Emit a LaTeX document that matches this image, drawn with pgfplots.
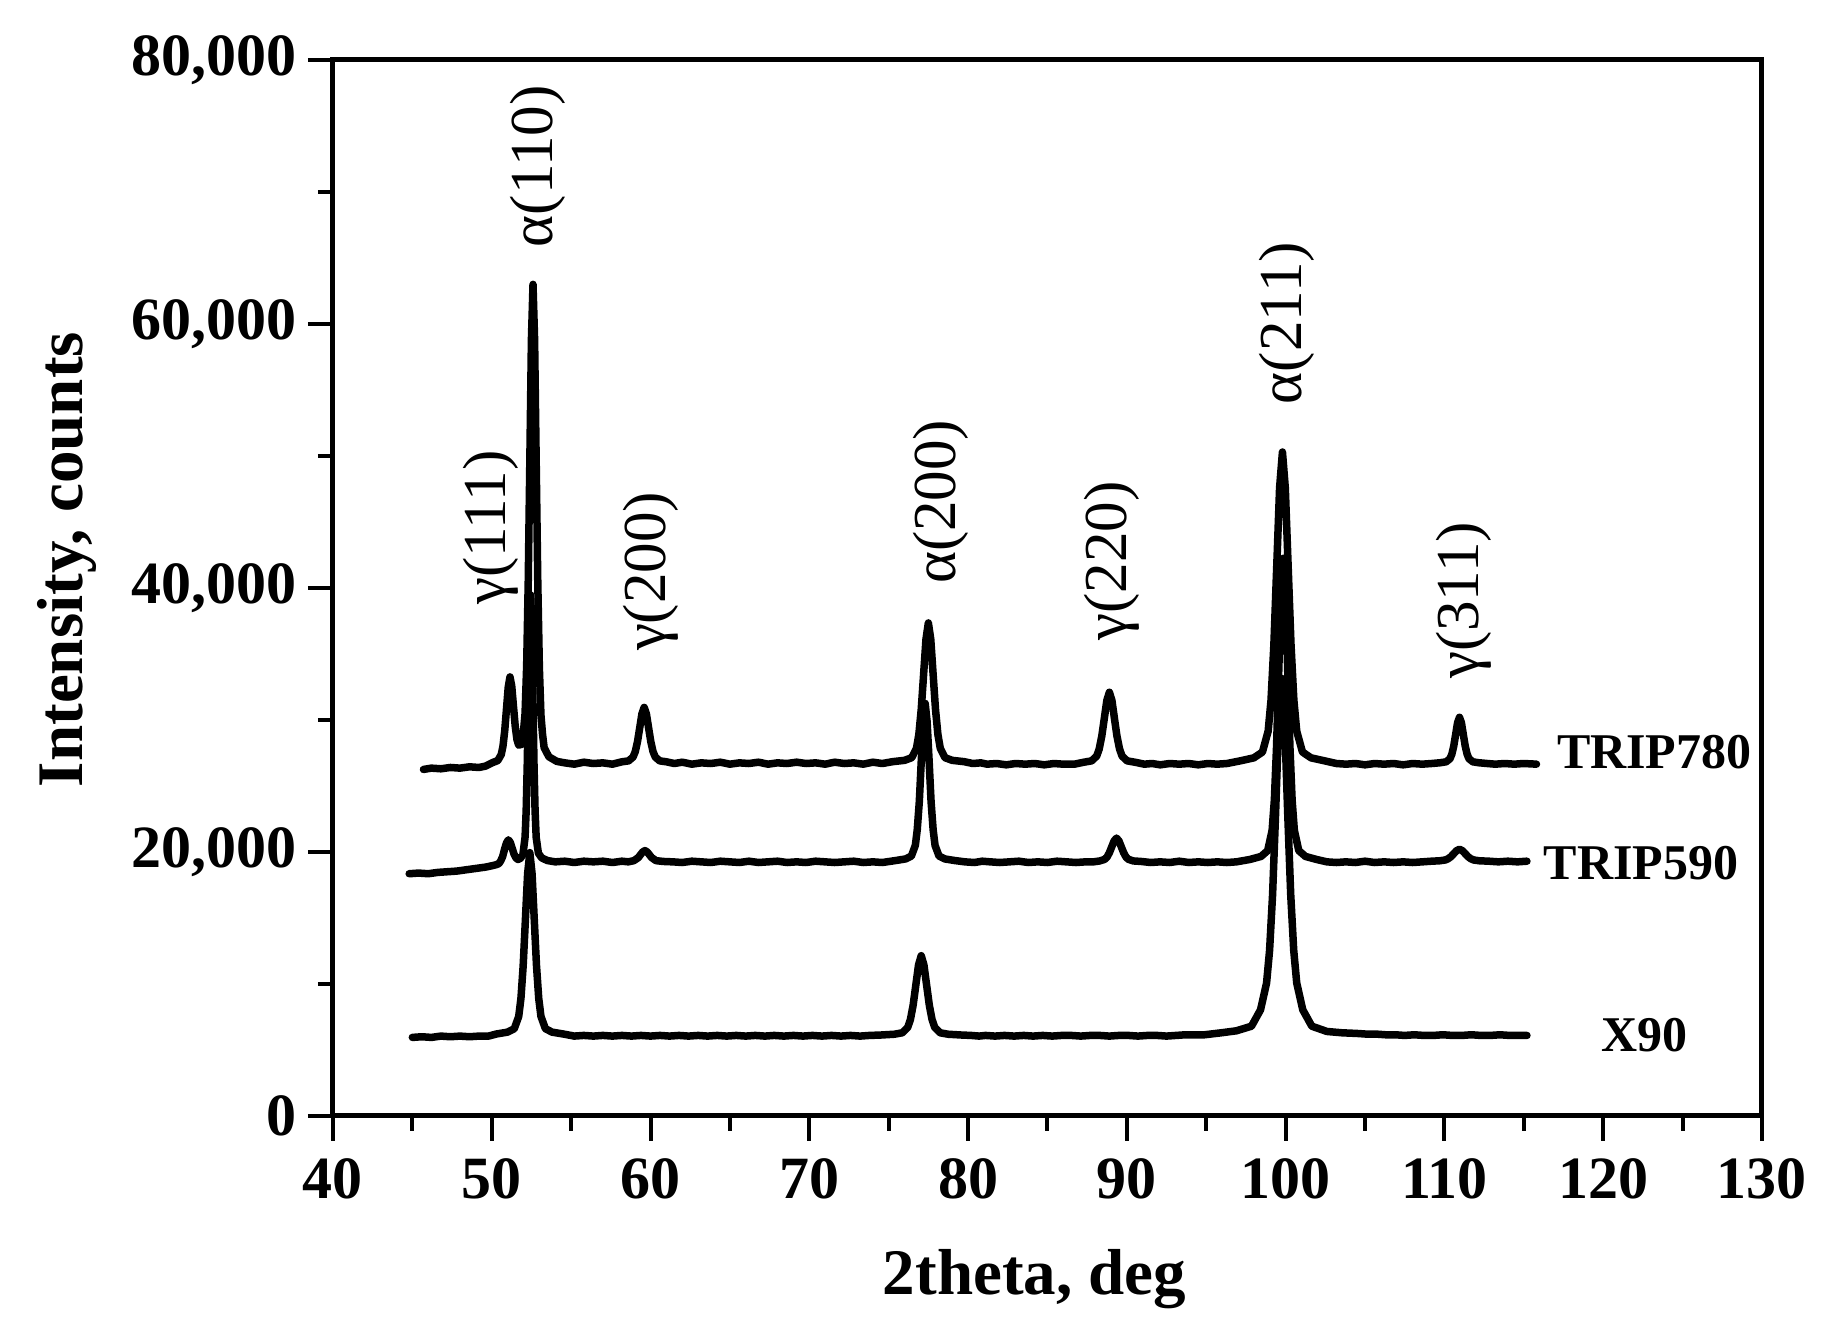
\documentclass[border=0pt]{standalone}
\usepackage{fontspec}
\setmainfont{Liberation Serif}
\usepackage{pgfplots}
\pgfplotsset{compat=1.18}

\newcommand{\tickfont}{\fontsize{12}{14}\selectfont\bfseries}
\newcommand{\labfont}{\fontsize{13}{15}\selectfont\bfseries}
\newcommand{\pkfont}{\fontsize{12.2}{14}\selectfont}
\newcommand{\serfont}{\fontsize{10}{12}\selectfont\bfseries}
\tikzset{xrd/.style={black, no markers, line width=1.5pt, line join=round, line cap=round}}

\begin{document}
\begin{tikzpicture}
\begin{axis}[
  scale only axis, width=285.8pt, height=211.2pt,
  xmin=40, xmax=130, ymin=0, ymax=80000,
  xtick={40,50,...,130}, ytick={0,20000,40000,60000,80000},
  minor x tick num=1, minor y tick num=1,
  tick pos=left, tick align=outside,
  major tick length=5pt, minor tick length=3pt,
  axis line style={line width=1pt},
  every tick/.style={line width=0.8pt, black},
  scaled y ticks=false,
  /pgf/number format/1000 sep={,},
  /pgf/number format/assume math mode=true,
  tick label style={font=\tickfont},
  yticklabel style={xshift=1.2pt},
  clip=false,
  xlabel={2theta, deg}, ylabel={Intensity, counts},
  label style={font=\labfont},
  xlabel style={at={(rel axis cs:0.491,-0.1695)}, anchor=base},
  ylabel style={at={(rel axis cs:-0.186,0.527)}, anchor=center},
]
% TRIP780
\addplot[xrd] coordinates {
(45.7,26250) (46.2,26350) (46.8,26300) (47.4,26400) (48.0,26350) (48.6,26450) (49.2,26400) (49.6,26500)
(50.05,26770) (50.38,26920) (50.6,27380) (50.71,28030) (50.82,29200) (50.93,30840) (51.04,32490) (51.15,33260)
(51.26,32570) (51.37,31020) (51.48,29520) (51.59,28500) (51.7,28090) (51.8,28130) (51.9,28150) (52.0,29110)
(52.1,30500) (52.2,34070) (52.3,40520) (52.4,49640) (52.5,58820) (52.6,63000) (52.7,58800) (52.8,49590)
(52.9,40450) (53.0,33960) (53.1,30360) (53.2,28920) (53.3,27900) (53.6,27210) (54.1,26860)
(54.6,26750) (55.2,26650) (55.8,26800) (56.4,26700) (57.0,26750) (57.6,26650)
(58.2,26830) (58.62,26900) (58.9,27190) (59.04,27600) (59.18,28350) (59.32,29400) (59.46,30470) (59.6,30950)
(59.74,30470) (59.88,29400) (60.02,28350) (60.16,27600) (60.3,27190) (60.58,26900) (61.0,26830)
(61.5,26700) (62.0,26800) (62.6,26650) (63.2,26750) (63.8,26700) (64.4,26800) (65.0,26650) (65.6,26750)
(66.2,26700) (66.8,26800) (67.4,26650) (68.0,26750) (68.6,26700) (69.2,26800) (69.8,26700) (70.4,26750)
(71.0,26650) (71.6,26800) (72.2,26700) (72.8,26750) (73.4,26650) (74.0,26800) (74.6,26700)
(75.25,26840) (76.0,26940) (76.45,27140) (76.75,27850) (76.9,28900) (77.05,30790) (77.2,33450) (77.35,36130)
(77.5,37350) (77.65,36130) (77.8,33450) (77.95,30790) (78.1,28900) (78.25,27850) (78.55,27140) (79.0,26940) (79.75,26840)
(80.3,26700) (80.8,26750) (81.2,26650) (81.8,26700) (82.4,26600) (83.0,26700) (83.6,26650) (84.2,26700)
(84.8,26600) (85.4,26700) (86.0,26650) (86.7,26650)
(87.3,26800) (87.78,26900) (88.1,27260) (88.26,27800) (88.42,28760) (88.58,30110) (88.74,31480) (88.9,32100)
(89.06,31480) (89.22,30110) (89.38,28760) (89.54,27800) (89.7,27260) (90.02,26900) (90.5,26800)
(91.1,26650) (91.6,26700) (92.1,26600) (92.7,26700) (93.3,26650) (93.9,26700) (94.5,26600) (95.1,26700)
(95.7,26650) (96.3,26700)
(97.1,26890) (98.0,27130) (98.54,27570) (98.9,29150) (99.08,31490) (99.26,35690) (99.44,41620) (99.62,47590)
(99.8,50300) (99.98,47590) (100.16,41620) (100.34,35690) (100.52,31490) (100.7,29150) (101.06,27570) (101.6,27130) (102.5,26890)
(103.2,26700) (103.8,26650) (104.4,26700) (105.0,26600) (105.6,26700) (106.2,26650) (106.8,26700) (107.4,26600)
(108.0,26700) (108.6,26650) (109.2,26700)
(109.75,26760) (110.11,26830) (110.35,27060) (110.47,27410) (110.59,28030) (110.71,28910) (110.83,29800) (110.95,30200)
(111.07,29800) (111.19,28910) (111.31,28030) (111.43,27410) (111.55,27060) (111.79,26830) (112.15,26760)
(112.7,26700) (113.2,26650) (113.8,26700) (114.4,26650) (115.0,26700) (115.8,26650)
};
% TRIP590
\addplot[xrd] coordinates {
(44.8,18350) (45.4,18400) (46.0,18350) (46.6,18450) (47.2,18500) (47.8,18550) (48.4,18650) (49.0,18750)
(49.6,18850) (50.0,18950)
(50.3,19040) (50.45,19120) (50.57,19330) (50.69,19660) (50.81,20220) (50.93,20690) (51.05,20920) (51.17,20720)
(51.29,20270) (51.41,19820) (51.53,19550) (51.65,19430) (51.8,19510) (51.96,19770) (52.1,21120) (52.17,23140)
(52.24,26790) (52.31,31930) (52.38,37120) (52.45,39470) (52.52,37110) (52.59,31920) (52.66,26780) (52.73,23130)
(52.8,21100) (52.94,19900) (53.15,19550) (53.5,19350)
(54.0,19250) (54.6,19300) (55.2,19200) (55.8,19300) (56.4,19250) (57.0,19300) (57.6,19200) (58.2,19300) (58.6,19250)
(58.95,19340) (59.23,19570) (59.37,19790) (59.51,20000) (59.65,20100) (59.79,20000) (59.93,19790) (60.07,19570)
(60.35,19340) (60.8,19280)
(61.4,19250) (62.0,19200) (62.6,19300) (63.2,19250) (63.8,19200) (64.4,19300) (65.0,19250) (65.6,19200)
(66.2,19300) (66.8,19200) (67.4,19250) (68.0,19300) (68.6,19200) (69.2,19250) (69.8,19200) (70.4,19300)
(71.0,19250) (71.6,19200) (72.2,19250) (72.8,19300) (73.4,19200) (74.0,19250) (74.6,19200)
(75.44,19350) (76.06,19470) (76.43,19690) (76.68,20500) (76.8,21690) (76.93,23820) (77.05,26830) (77.18,29870)
(77.3,31250) (77.42,29870) (77.55,26830) (77.67,23820) (77.8,21690) (77.92,20500) (78.17,19690) (78.54,19470) (79.16,19350)
(79.8,19250) (80.4,19200) (80.9,19300) (81.4,19250) (82.0,19200) (82.6,19250) (83.2,19300) (83.8,19200)
(84.4,19250) (85.0,19200) (85.6,19300) (86.2,19250) (86.8,19200) (87.4,19250) (87.9,19250)
(88.3,19320) (88.6,19440) (88.75,19610) (88.9,19940) (89.05,20390) (89.2,20840) (89.35,21050) (89.5,20840)
(89.65,20390) (89.8,19940) (89.95,19610) (90.1,19440) (90.4,19320) (90.9,19280)
(91.5,19200) (92.1,19250) (92.7,19200) (93.3,19300) (93.9,19200) (94.5,19250) (95.1,19200) (95.7,19250)
(96.3,19200) (96.9,19250)
(97.75,19430) (98.45,19660) (98.87,20100) (99.15,21640) (99.29,23920) (99.43,28010) (99.57,33790) (99.71,39600)
(99.85,42250) (99.99,39600) (100.13,33790) (100.27,28010) (100.41,23920) (100.55,21640) (100.83,20100) (101.25,19660) (101.95,19430)
(102.6,19250) (103.2,19200) (103.8,19250) (104.4,19200) (105.0,19300) (105.6,19200) (106.2,19250) (106.8,19200)
(107.4,19250) (108.0,19200) (108.6,19250) (109.2,19300)
(109.69,19330) (110.05,19390) (110.23,19480) (110.41,19640) (110.59,19870) (110.77,20100) (110.95,20200) (111.13,20100)
(111.31,19870) (111.49,19640) (111.67,19480) (111.85,19390) (112.21,19330)
(112.8,19300) (113.4,19250) (114.0,19300) (114.6,19250) (115.2,19300)
};
% X90
\addplot[xrd] coordinates {
(45.0,5950) (45.6,6000) (46.2,5950) (46.8,6050) (47.4,6000) (48.0,6050) (48.6,6000) (49.2,6050) (49.8,6050)
(50.3,6210) (51.0,6350) (51.42,6610) (51.7,7540) (51.84,8910) (51.98,11380) (52.12,14850) (52.26,18360)
(52.4,19950) (52.54,18360) (52.68,14850) (52.82,11380) (52.96,8910) (53.1,7540) (53.38,6610) (53.8,6350) (54.5,6210)
(55.2,6050) (55.8,6100) (56.4,6050) (57.0,6100) (57.6,6050) (58.2,6100) (58.8,6050) (59.4,6100)
(60.0,6050) (60.6,6100) (61.2,6050) (61.8,6100) (62.4,6050) (63.0,6100) (63.6,6050) (64.2,6100) (64.8,6050)
(65.4,6100) (66.0,6050) (66.6,6100) (67.2,6050) (67.8,6100) (68.4,6050) (69.0,6100) (69.6,6050) (70.2,6100)
(70.8,6050) (71.4,6100) (72.0,6050) (72.6,6100) (73.2,6050) (73.8,6100)
(74.5,6130) (75.35,6190) (75.86,6300) (76.2,6710) (76.37,7310) (76.54,8390) (76.71,9910) (76.88,11440) (77.05,12140)
(77.22,11440) (77.39,9910) (77.56,8390) (77.73,7310) (77.9,6710) (78.24,6300) (78.75,6190) (79.6,6130)
(80.2,6100) (80.7,6050) (81.1,6100) (81.7,6050) (82.3,6100) (82.9,6050) (83.5,6100) (84.1,6050) (84.7,6100)
(85.3,6050) (85.9,6100) (86.5,6100) (87.1,6050) (87.7,6100) (88.3,6100) (88.9,6050) (89.5,6100) (90.1,6100)
(90.7,6050) (91.3,6100) (91.9,6100) (92.5,6050) (93.1,6100) (93.7,6150) (94.3,6150) (94.9,6150)
(95.95,6300) (96.9,6450) (97.85,6800) (98.42,8040) (98.8,10070) (98.99,12550) (99.18,16790) (99.37,22970)
(99.56,29780) (99.75,33150) (99.94,29780) (100.13,22970) (100.32,16790) (100.51,12550) (100.7,10070) (101.08,8040)
(101.65,6800) (102.6,6400) (103.55,6300)
(104.5,6250) (105.1,6200) (105.7,6200) (106.3,6150) (106.9,6150) (107.5,6100) (108.1,6150) (108.7,6100)
(109.3,6100) (109.9,6150) (110.5,6100) (111.1,6100) (111.7,6150) (112.3,6100) (112.9,6100) (113.5,6150)
(114.1,6100) (114.7,6100) (115.2,6100)
};
% peak labels
\node[rotate=90, anchor=base west, inner sep=0pt, font=\pkfont] at (axis cs:50.87,38640) {γ(111)};
\node[rotate=90, anchor=base west, inner sep=0pt, font=\pkfont] at (axis cs:53.8,65750) {α(110)};
\node[rotate=90, anchor=base west, inner sep=0pt, font=\pkfont] at (axis cs:60.94,35150) {γ(200)};
\node[rotate=90, anchor=base west, inner sep=0pt, font=\pkfont] at (axis cs:79.2,40230) {α(200)};
\node[rotate=90, anchor=base west, inner sep=0pt, font=\pkfont] at (axis cs:90.0,35930) {γ(220)};
\node[rotate=90, anchor=base west, inner sep=0pt, font=\pkfont] at (axis cs:101.03,53860) {α(211)};
\node[rotate=90, anchor=base west, inner sep=0pt, font=\pkfont] at (axis cs:112.14,33030) {γ(311)};
% series labels
\node[anchor=base west, inner sep=0pt, font=\serfont] at (axis cs:117.03,26340) {TRIP780};
\node[anchor=base west, inner sep=0pt, font=\serfont] at (axis cs:116.19,17880) {TRIP590};
\node[anchor=base west, inner sep=0pt, font=\serfont] at (axis cs:119.8,4870) {X90};
% page extent
\path (rel axis cs:-0.2330,-0.2112) rectangle (rel axis cs:1.0469,1.0568);
\end{axis}
\end{tikzpicture}
\end{document}
